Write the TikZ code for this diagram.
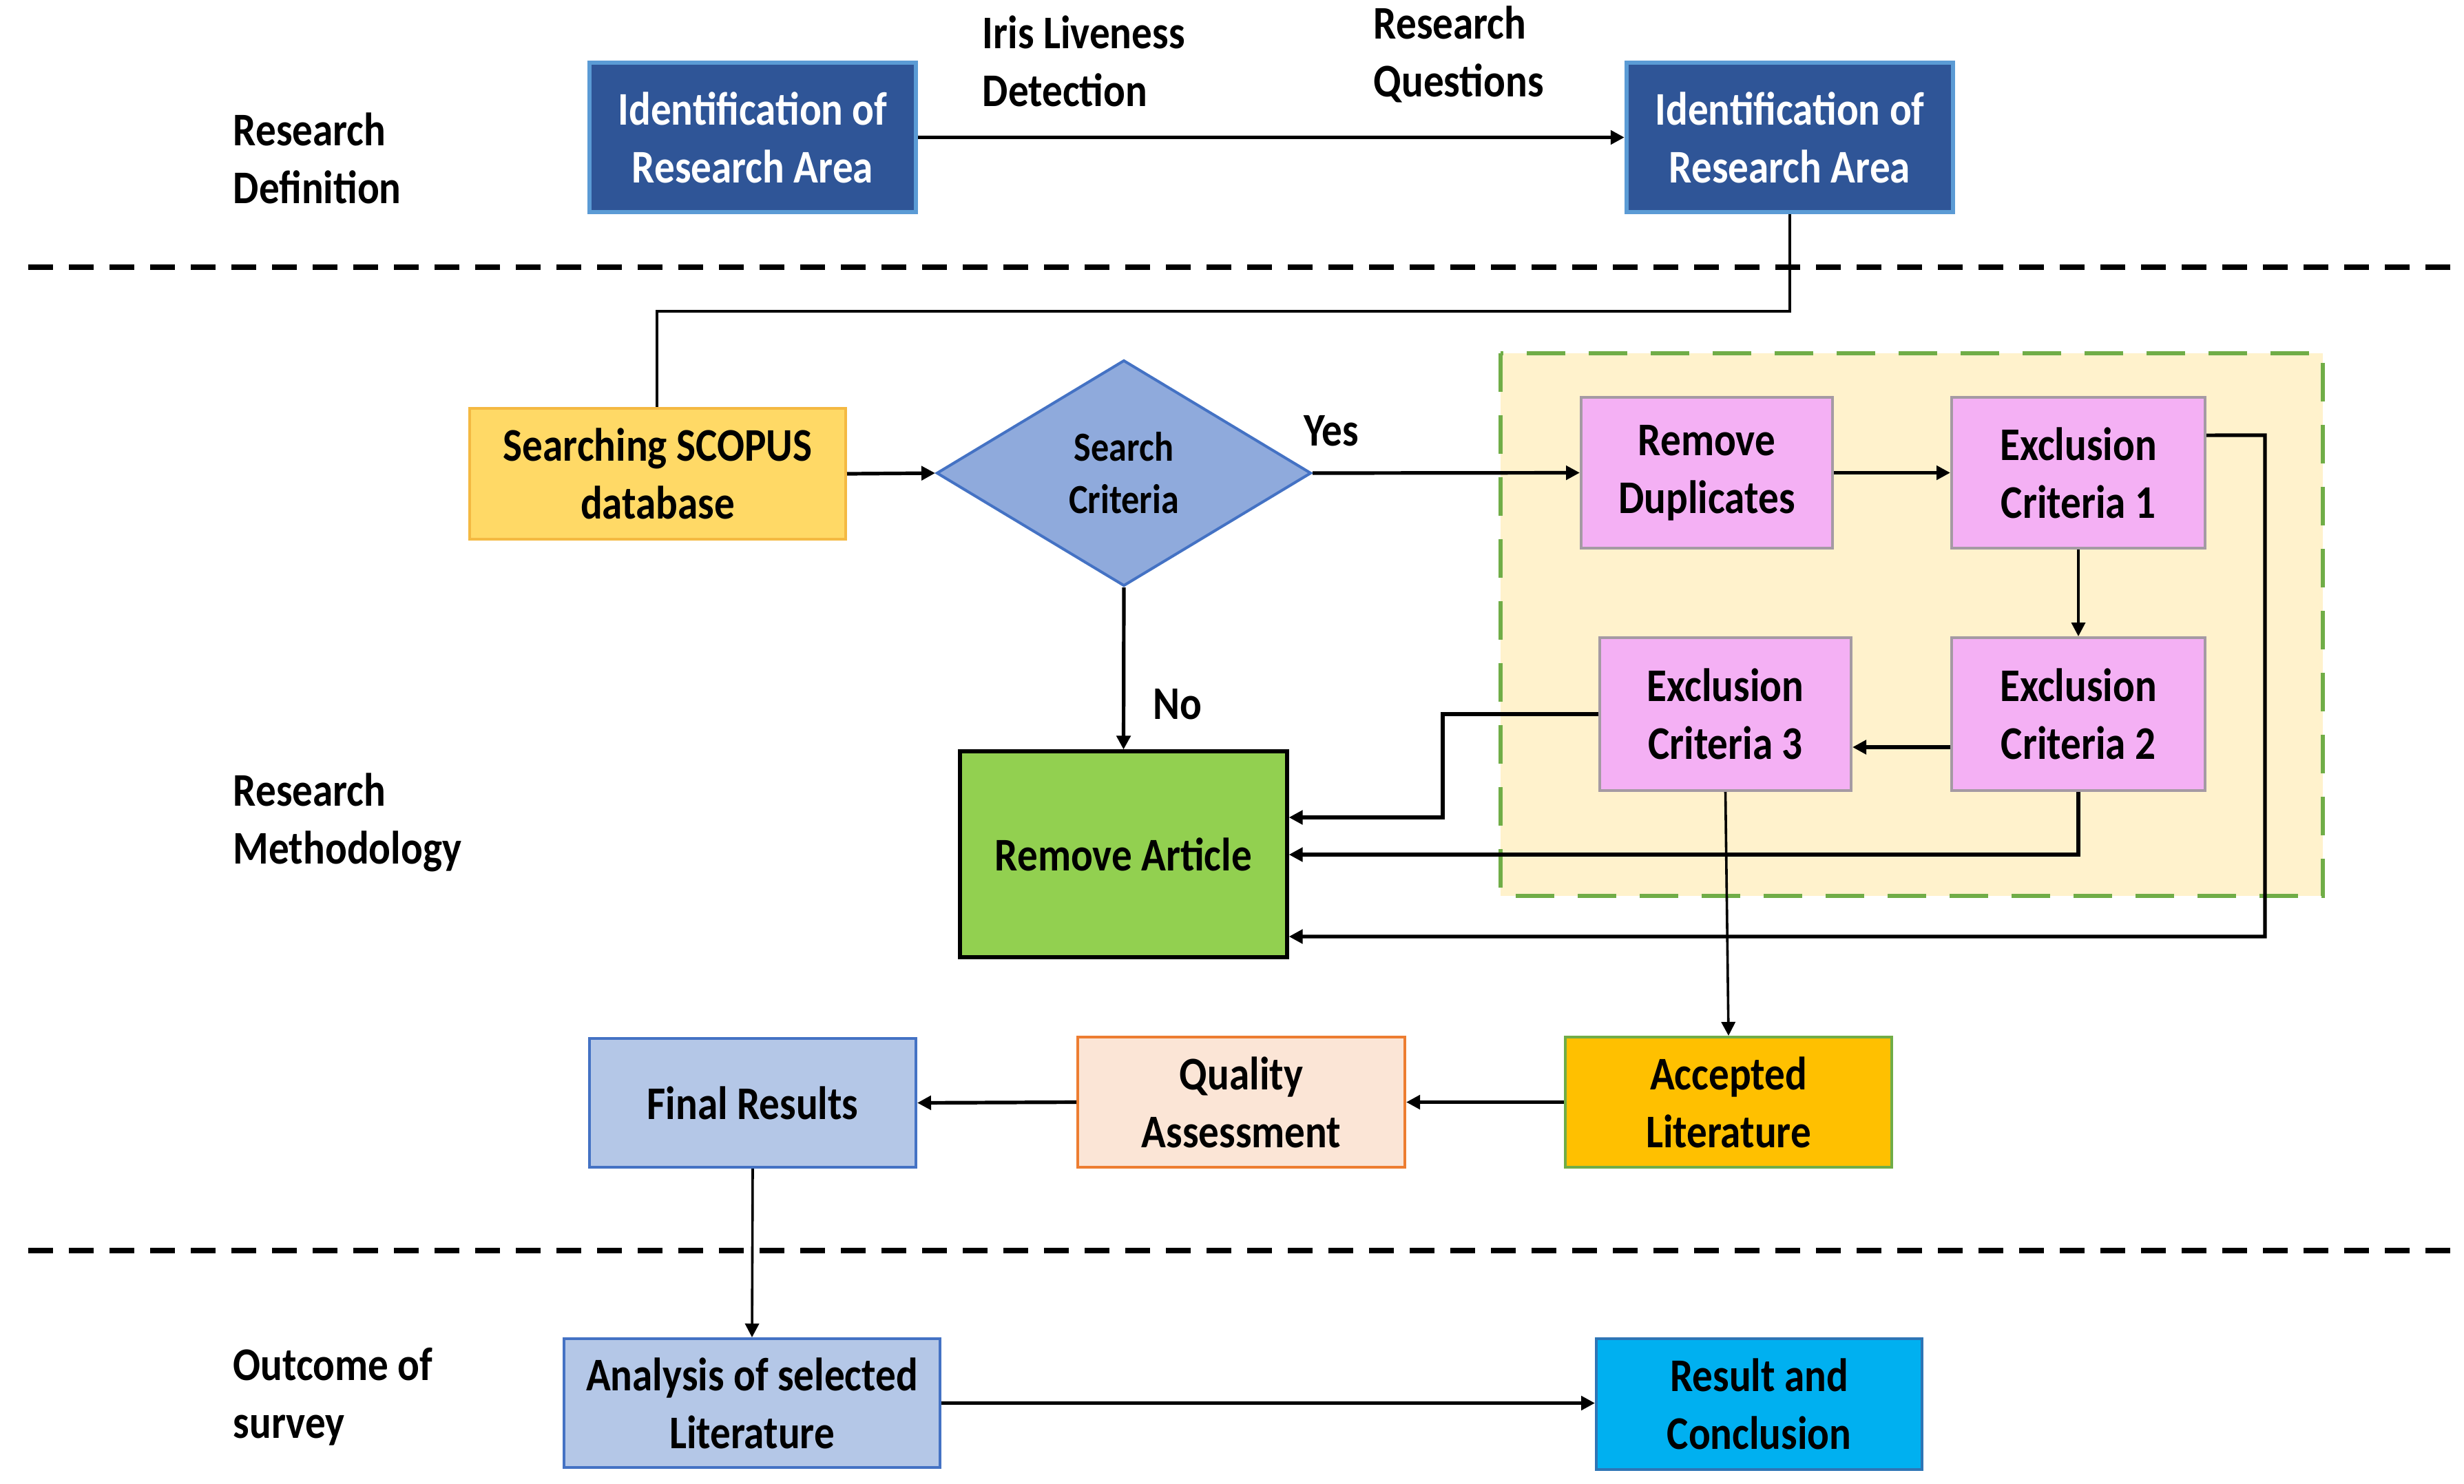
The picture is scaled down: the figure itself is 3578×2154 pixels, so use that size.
\documentclass[tikz,border=0pt]{standalone}
\usepackage{fontspec}
\setmainfont{Carlito}[FakeStretch=0.87]
\usetikzlibrary{shapes.geometric,arrows.meta,calc}
\definecolor{dblue}{HTML}{2F5597}
\definecolor{lblue}{HTML}{5B9BD5}
\definecolor{yel}{HTML}{FFD966}
\definecolor{yelb}{HTML}{F4B942}
\definecolor{dia}{HTML}{8FAADC}
\definecolor{diab}{HTML}{4472C4}
\definecolor{cont}{HTML}{FFF2CC}
\definecolor{contb}{HTML}{70AD47}
\definecolor{pink}{HTML}{F4B0F4}
\definecolor{pinkb}{HTML}{A59AA3}
\definecolor{grn}{HTML}{92D050}
\definecolor{gold}{HTML}{FFC000}
\definecolor{peach}{HTML}{FBE5D6}
\definecolor{orng}{HTML}{ED7D31}
\definecolor{pblue}{HTML}{B4C7E7}
\definecolor{cyan2}{HTML}{00B0F0}
\definecolor{cyanb}{HTML}{2E75B6}
\tikzset{
  every node/.style={font=\bfseries\fontsize{17}{21}\selectfont},
  box/.style={draw, line width=1pt, inner sep=0pt, align=center},
  arr/.style={line width=1.3pt, -{Triangle[length=5pt,width=5pt]}},
  tarr/.style={line width=0.9pt, -{Triangle[length=5pt,width=5pt]}},
  ln/.style={line width=1pt},
  sep/.style={line width=1.8pt, dash pattern=on 9pt off 5.75pt},
  lbl/.style={align=left, anchor=west, inner sep=0pt}
}
\begin{document}
\begin{tikzpicture}[x=0.25pt, y=-0.25pt]
\useasboundingbox[fill=white] (0,0) rectangle (3578,2154);
% separators
\draw[sep] (41,388) -- (3571,388);
\draw[sep] (41,1816) -- (3571,1816);
% container
\draw[fill=cont, draw=contb, line width=1.7pt, dash pattern=on 14pt off 8.5pt] (2179,513) rectangle (3373,1301);
% side labels
\node[lbl] (ldef) at (338,229.5) {Research\\Definition};
\node[lbl] (lmeth) at (338,1194.5) {Research\\Methodology};
\node[lbl] (lout) at (338,2028.5) {Outcome of\\survey};
\node[lbl] (liris) at (1426,89) {Iris Liveness\\Detection};
\node[lbl] (lrq) at (1994,79) {Research\\Questions};
% nodes
\node[box, fill=dblue, draw=lblue, line width=1.6pt, text=white, minimum width=118.5pt, minimum height=54.25pt] (ira1) at (1093,199.5) {Identification of\\Research Area};
\node[box, fill=dblue, draw=lblue, line width=1.6pt, text=white, minimum width=118.5pt, minimum height=54.25pt] (ira2) at (2599,199.5) {Identification of\\Research Area};
\node[box, fill=yel, draw=yelb, minimum width=136.5pt, minimum height=47.5pt] (scopus) at (955,688) {Searching SCOPUS\\database};
\node[box, shape=diamond, aspect=1.66, fill=dia, draw=diab, minimum width=136pt, minimum height=82pt, font=\bfseries\fontsize{15}{19}\selectfont] (crit) at (1632,687) {Search\\Criteria};
\node[box, fill=pink, draw=pinkb, minimum width=91.25pt, minimum height=54.75pt] (dup) at (2478.5,686.5) {Remove\\Duplicates};
\node[box, fill=pink, draw=pinkb, minimum width=92pt, minimum height=54.75pt] (ex1) at (3018,686.5) {Exclusion\\Criteria 1};
\node[box, fill=pink, draw=pinkb, minimum width=92pt, minimum height=55.5pt] (ex2) at (3018,1037) {Exclusion\\Criteria 2};
\node[box, fill=pink, draw=pinkb, minimum width=91.25pt, minimum height=55.5pt] (ex3) at (2505.5,1037) {Exclusion\\Criteria 3};
\node[box, fill=grn, draw=black, line width=1.3pt, minimum width=118.75pt, minimum height=74.75pt] (ra) at (1631.5,1240.5) {Remove Article};
\node[box, fill=gold, draw=contb, minimum width=118.5pt, minimum height=47.25pt] (acc) at (2510,1600.5) {Accepted\\Literature};
\node[box, fill=peach, draw=orng, minimum width=118.75pt, minimum height=47.25pt] (qa) at (1802.5,1600.5) {Quality\\Assessment};
\node[box, fill=pblue, draw=diab, minimum width=118.5pt, minimum height=46.75pt] (fr) at (1093,1601.5) {Final Results};
\node[box, fill=pblue, draw=diab, minimum width=136.5pt, minimum height=46.75pt] (an) at (1092,2037.5) {Analysis of selected\\Literature};
\node[box, fill=cyan2, draw=cyanb, minimum width=118.25pt, minimum height=47.5pt] (rc) at (2554.5,2039) {Result and\\Conclusion};
% connectors
\draw[arr] (ira1.east) -- (ira2.west);
\draw[ln] (ira2.south) -- (2599,452) -- (954,452) -- (scopus.north -| 954,0);
\draw[arr] (scopus.east) -- (crit.west);
\draw[arr] (crit.east) -- node[pos=0.07, above=9pt, inner sep=0pt] (yes) {Yes} (dup.west);
\draw[arr] (crit.south) -- node[pos=0.72, right=10pt, inner sep=0pt] (no) {No} (ra.north);
\draw[arr] (dup.east) -- (ex1.west);
\draw[tarr] (ex1.south) -- (ex2.north);
\draw[arr] ([yshift=-12pt]ex2.west) -- ([yshift=-12pt]ex3.east);
\draw[arr] (ex3.west) -- (2095,1037) -- (2095,1187) -- (ra.east |- 0,1187);
\draw[arr] (ex2.south) -- (3018,1241) -- (ra.east |- 0,1241);
\draw[arr] ([yshift=13.6pt]ex1.east) -- (3289,632) -- (3289,1360) -- (ra.east |- 0,1360);
\draw[tarr] (ex3.south) -- (acc.north);
\draw[arr] (acc.west) -- (qa.east);
\draw[arr] (qa.west) -- (fr.east);
\draw[tarr] (fr.south) -- (an.north);
\draw[arr] (an.east) -- (rc.west |- an.east);
\end{tikzpicture}
\end{document}
